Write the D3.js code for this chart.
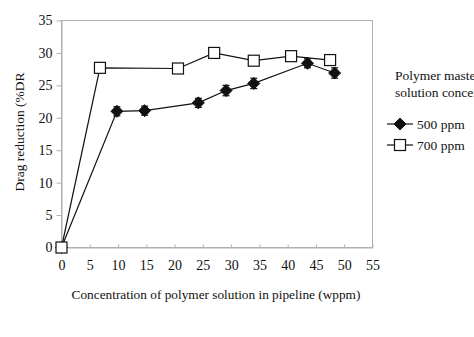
<!DOCTYPE html>
<html><head><meta charset="utf-8">
<script src="https://cdn.jsdelivr.net/npm/d3@7"></script>
<style>
html,body{margin:0;padding:0;background:#fff;overflow:hidden}
svg{display:block}
text{font-family:"Liberation Serif","Times New Roman",serif;fill:#111}
</style></head><body>
<svg id="c" width="474" height="337"></svg>
<script>
const xTicks = [0,5,10,15,20,25,30,35,40,45,50,55];
const yTicks = [0,5,10,15,20,25,30,35];
const x500 = [0, 9.8, 14.7, 24.2, 29.1, 34, 43.5, 48.3];
const y500 = [0, 21.0, 21.1, 22.3, 24.2, 25.3, 28.4, 26.9];
const e500 = [0, 0.7, 0.7, 0.7, 0.8, 0.8, 0.7, 0.8];
const x700 = [0, 6.8, 20.6, 27.0, 34.0, 40.6, 47.5];
const y700 = [0, 27.7, 27.6, 30.0, 28.8, 29.5, 28.9];
const e700 = [0, 0.5, 0.6, 0.6, 0.6, 0.5, 0.6];
const seriesNames = ["500 ppm", "700 ppm"];
const legendTitle = ["Polymer master", "solution concentration"];
const xTitle = "Concentration of polymer solution in pipeline (wppm)";
const yTitle = "Drag reduction (%DR";

const FONT = "Liberation Serif";
const svg = d3.select("#c");
const L = 61.5, R = 372.5, T = 20.5, B = 247.5;
const x = d3.scaleLinear().domain([0,55]).range([L,R]);
const y = d3.scaleLinear().domain([0,35]).range([B,T]);
const grey = "#b0b0b0";

// frame
svg.append("rect").attr("x",L).attr("y",T).attr("width",R-L).attr("height",B-T)
  .attr("fill","none").attr("stroke",grey).attr("stroke-width",1);

// x axis
const xa = svg.append("g").attr("transform",`translate(0,${B})`)
  .call(d3.axisBottom(x).tickValues(xTicks).tickSizeInner(-3).tickSizeOuter(0).tickPadding(13));
xa.attr("font-family",FONT).attr("font-size",14);
xa.select(".domain").attr("stroke",grey);
xa.selectAll(".tick line").attr("stroke",grey);
xa.selectAll("text").attr("fill","#111");

// y axis
const ya = svg.append("g").attr("transform",`translate(${L},0)`)
  .call(d3.axisLeft(y).tickValues(yTicks).tickSizeInner(5).tickSizeOuter(0).tickPadding(4));
ya.attr("font-family",FONT).attr("font-size",14);
ya.select(".domain").attr("stroke",grey);
ya.selectAll(".tick line").attr("stroke",grey);
ya.selectAll("text").attr("fill","#111");

// titles
svg.append("text").attr("x",216).attr("y",299).attr("text-anchor","middle")
  .attr("font-size",13.3).text(xTitle);
svg.append("text").attr("transform","translate(24,132) rotate(-90)").attr("text-anchor","middle")
  .attr("font-size",13.5).text(yTitle);

function drawSeries(xs, ys, es, kind){
  const pts = xs.map((v,i)=>({x:v,y:ys[i],e:es[i]}));
  svg.append("path").datum(pts)
    .attr("d", d3.line().x(d=>x(d.x)).y(d=>y(d.y)))
    .attr("fill","none").attr("stroke","#111").attr("stroke-width",1.2);
  const g = svg.append("g");
  pts.forEach(d=>{
    if(d.e>0){
      g.append("line").attr("x1",x(d.x)).attr("x2",x(d.x)).attr("y1",y(d.y-d.e)).attr("y2",y(d.y+d.e))
        .attr("stroke","#111").attr("stroke-width",1.2);
      [d.y-d.e, d.y+d.e].forEach(v=>g.append("line").attr("x1",x(d.x)-3.5).attr("x2",x(d.x)+3.5)
        .attr("y1",y(v)).attr("y2",y(v)).attr("stroke","#111").attr("stroke-width",1.2));
    }
  });
  pts.forEach(d=>marker(g, x(d.x), y(d.y), kind));
}
function marker(g, cx, cy, kind){
  if(kind==="diamond"){
    g.append("path").attr("d",`M${cx},${cy-6}L${cx+6},${cy}L${cx},${cy+6}L${cx-6},${cy}Z`)
      .attr("fill","#111").attr("stroke","#111");
  } else {
    g.append("rect").attr("x",cx-5.5).attr("y",cy-5.5).attr("width",11).attr("height",11)
      .attr("fill","#fff").attr("stroke","#111").attr("stroke-width",1.2);
  }
}
drawSeries(x500, y500, e500, "diamond");
drawSeries(x700, y700, e700, "square");

// legend
svg.append("text").attr("x",395).attr("y",80).attr("font-size",13.5).text(legendTitle[0]);
svg.append("text").attr("x",395).attr("y",97).attr("font-size",13.5).text(legendTitle[1]);
const lg = svg.append("g");
[["diamond",124],["square",145]].forEach(([k,ly],i)=>{
  lg.append("line").attr("x1",387).attr("x2",413).attr("y1",ly).attr("y2",ly)
    .attr("stroke","#111").attr("stroke-width",1.2);
  marker(lg, 400, ly, k);
  lg.append("text").attr("x",417).attr("y",ly+4.5).attr("font-size",13.5).text(seriesNames[i]);
});
</script></body></html>
